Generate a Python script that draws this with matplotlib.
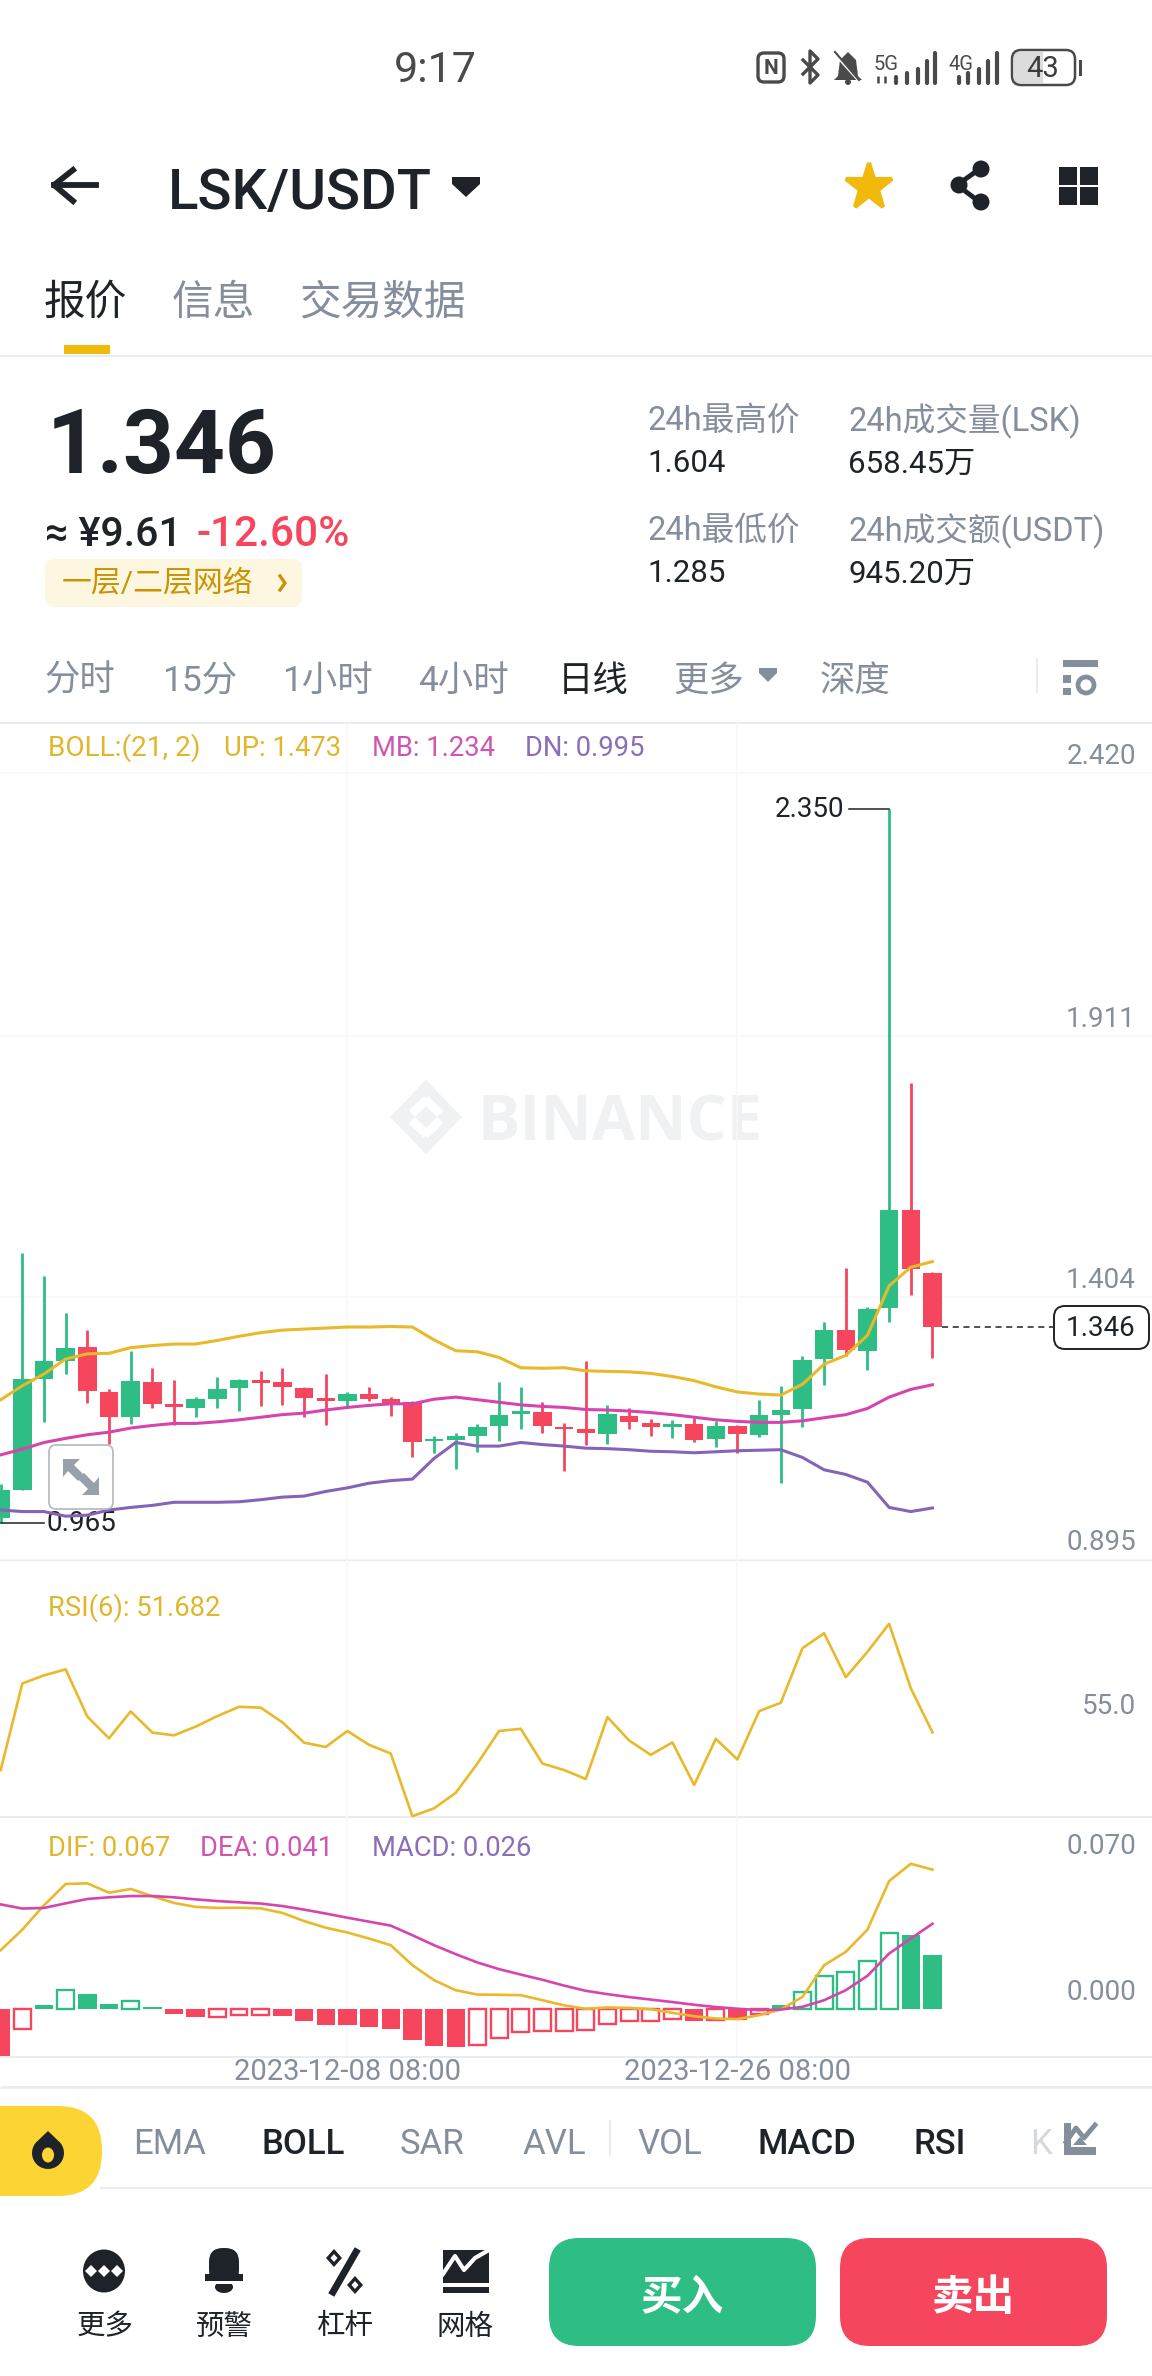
import numpy as np
import matplotlib
matplotlib.use("Agg")
import matplotlib.pyplot as plt
from matplotlib.patches import FancyBboxPatch, Polygon, Circle, Ellipse, Rectangle
from matplotlib.transforms import ScaledTranslation

plt.rcParams['font.family'] = ['Roboto', 'Noto Sans CJK SC', 'DejaVu Sans']

# --- Data ---
opens = [0.975, 1.029, 1.245, 1.280, 1.307, 1.219, 1.172, 1.240, 1.197, 1.189, 1.207,
         1.227, 1.243, 1.240, 1.227, 1.208, 1.203, 1.217, 1.207, 1.200, 1.124, 1.126,
         1.135, 1.154, 1.178, 1.181, 1.153, 1.148, 1.139, 1.174, 1.160, 1.153, 1.158,
         1.128, 1.154, 1.137, 1.176, 1.186, 1.284, 1.340, 1.300, 1.383, 1.573, 1.451]
closes = [1.029, 1.245, 1.280, 1.305, 1.221, 1.172, 1.241, 1.197, 1.191, 1.207, 1.226,
          1.243, 1.238, 1.230, 1.209, 1.203, 1.216, 1.207, 1.197, 1.122, 1.129, 1.134,
          1.152, 1.176, 1.183, 1.154, 1.148, 1.140, 1.177, 1.162, 1.152, 1.158, 1.126,
          1.154, 1.139, 1.176, 1.185, 1.282, 1.340, 1.302, 1.381, 1.573, 1.458, 1.346]
highs = [1.041, 1.489, 1.445, 1.373, 1.340, 1.225, 1.300, 1.266, 1.243, 1.211, 1.250,
         1.245, 1.260, 1.266, 1.229, 1.254, 1.219, 1.229, 1.210, 1.203, 1.135, 1.141,
         1.157, 1.240, 1.229, 1.200, 1.159, 1.280, 1.195, 1.188, 1.168, 1.166, 1.169,
         1.164, 1.156, 1.205, 1.232, 1.289, 1.355, 1.460, 1.385, 2.350, 1.820, 1.452]
lows = [0.965, 1.029, 1.161, 1.255, 1.199, 1.120, 1.158, 1.188, 1.155, 1.172, 1.188,
        1.183, 1.192, 1.194, 1.172, 1.156, 1.188, 1.203, 1.174, 1.093, 1.101, 1.071,
        1.104, 1.124, 1.148, 1.140, 1.067, 1.118, 1.120, 1.148, 1.135, 1.130, 1.122,
        1.113, 1.101, 1.133, 1.043, 1.152, 1.234, 1.289, 1.263, 1.355, 1.408, 1.286]

boll_up = [1.205, 1.232, 1.255, 1.284, 1.294, 1.295, 1.306, 1.310, 1.313, 1.313, 1.320,
           1.328, 1.335, 1.340, 1.342, 1.344, 1.346, 1.346, 1.347, 1.346, 1.321, 1.300,
           1.298, 1.287, 1.267, 1.266, 1.267, 1.261, 1.260, 1.259, 1.256, 1.250, 1.242,
           1.230, 1.220, 1.216, 1.214, 1.235, 1.274, 1.291, 1.330, 1.426, 1.462, 1.473]
boll_mb = [1.098, 1.109, 1.122, 1.130, 1.137, 1.142, 1.150, 1.155, 1.159, 1.159, 1.162,
           1.166, 1.171, 1.176, 1.179, 1.185, 1.190, 1.194, 1.197, 1.197, 1.206, 1.210,
           1.205, 1.200, 1.195, 1.192, 1.190, 1.186, 1.185, 1.183, 1.180, 1.176, 1.171,
           1.166, 1.163, 1.161, 1.161, 1.164, 1.170, 1.176, 1.188, 1.210, 1.225, 1.234]
boll_dn = [0.991, 0.988, 0.988, 0.979, 0.981, 0.991, 0.996, 1.000, 1.006, 1.006, 1.006,
           1.007, 1.011, 1.016, 1.018, 1.027, 1.034, 1.043, 1.048, 1.051, 1.091, 1.122,
           1.115, 1.115, 1.122, 1.118, 1.115, 1.111, 1.110, 1.108, 1.105, 1.104, 1.102,
           1.104, 1.106, 1.107, 1.108, 1.093, 1.069, 1.060, 1.045, 0.996, 0.988, 0.995]

rsi6 = [37.8, 69.7, 72.7, 74.9, 57.5, 49.5, 59.4, 51.6, 50.6, 53.8, 57.7, 61.1, 60.8,
        55.4, 47.9, 46.3, 52.2, 47.1, 43.9, 20.8, 23.7, 29.4, 40.2, 52.2, 53.0, 40.2,
        37.8, 34.5, 57.3, 48.7, 43.4, 48.0, 32.3, 49.3, 41.7, 59.5, 62.6, 82.7, 88.2,
        72.0, 81.4, 91.7, 67.9, 51.682]

dif = [0.0283, 0.0382, 0.0499, 0.0601, 0.0604, 0.0559, 0.0577, 0.0542, 0.0510, 0.0491,
       0.0486, 0.0487, 0.0484, 0.0462, 0.0423, 0.0391, 0.0368, 0.0339, 0.0307, 0.0211,
       0.0139, 0.0091, 0.0070, 0.0069, 0.0067, 0.0043, 0.0018, 0.0002, 0.0008, 0.0006,
       0.0000, -0.0018, -0.0034, -0.0045, -0.0048, -0.0029, -0.0002, 0.0059, 0.0211,
       0.0275, 0.0382, 0.0615, 0.0698, 0.0670]
dea = [0.0503, 0.0483, 0.0486, 0.0508, 0.0529, 0.0537, 0.0543, 0.0543, 0.0537, 0.0527,
       0.0519, 0.0513, 0.0507, 0.0495, 0.0478, 0.0459, 0.0439, 0.0420, 0.0401, 0.0355,
       0.0307, 0.0264, 0.0224, 0.0192, 0.0166, 0.0141, 0.0113, 0.0088, 0.0072, 0.0058,
       0.0046, 0.0034, 0.0021, 0.0010, 0.0002, -0.0005, -0.0002, 0.0011, 0.0043, 0.0091,
       0.0160, 0.0267, 0.0339, 0.0410]
macd = [-0.0225, -0.0096, 0.0019, 0.0093, 0.0074, 0.0024, 0.0037, 0.0011, -0.0024, -0.0037,
        -0.0040, -0.0027, -0.0026, -0.0032, -0.0058, -0.0075, -0.0077, -0.0088, -0.0096,
        -0.0150, -0.0177, -0.0181, -0.0171, -0.0139, -0.0112, -0.0105, -0.0104, -0.0102,
        -0.0072, -0.0058, -0.0056, -0.0048, -0.0059, -0.0053, -0.0050, -0.0024, 0.0018,
        0.0083, 0.0161, 0.0179, 0.0229, 0.0368, 0.0356, 0.0260]
macd_hollow = [0, 1, 0, 1, 0, 0, 1, 0, 0, 0, 1, 1, 1, 0, 0, 0, 0, 0, 0, 0, 0, 0, 1, 1, 1, 1,
               1, 1, 1, 1, 1, 1, 0, 1, 0, 1, 0, 1, 1, 1, 1, 1, 0, 0]

price_ticks = [0.895, 1.404, 1.911, 2.420]
price_labels = ['0.895', '1.404', '1.911', '2.420']
rsi_ticks = [55.0]
rsi_labels = ['55.0']
macd_ticks = [0.0, 0.07]
macd_labels = ['0.000', '0.070']
date_pos = [16, 34]
date_labels = ['2023-12-08 08:00', '2023-12-26 08:00']
last_price = 1.346

periods = ['分时', '15分', '1小时', '4小时', '日线', '更多', '深度']
period_x = [44, 162, 282, 418, 558, 673, 820]
indicators = ['EMA', 'BOLL', 'SAR', 'AVL', 'VOL', 'MACD', 'RSI']
indicator_x = [133, 261, 400, 522, 638, 758, 914]
indicator_on = [False, True, False, False, False, True, True]

# --- Colours ---
DARK = '#1e2329'
GREY = '#848e9c'
GREEN = '#2ebd85'
RED = '#f6465d'
YELLOW = '#e8b92a'
MAGENTA = '#d645ad'
PURPLE = '#8763b8'
LINE = '#eaecef'
FAINT = '#f8f8f9'

W, H = 1152, 2376
fig = plt.figure(figsize=(W / 100, H / 100), dpi=100, facecolor='white')

# x scale shared by the three panels: one candle every 21.67 px
xlim = (-0.67 / 21.67, (W - 0.67) / 21.67)
idx = np.arange(len(opens))
lift = ScaledTranslation(0, 3 / 100, fig.dpi_scale_trans)


def px_axes(top, bottom, zorder=1):
    a = fig.add_axes([0, 1 - bottom / H, 1, (bottom - top) / H], zorder=zorder)
    a.patch.set_visible(False)
    for s in a.spines.values():
        s.set_visible(False)
    return a


def setup_panel(a, ticks, labels, grid_y):
    a.set_xlim(*xlim)
    a.set_xticks(date_pos)
    a.set_xticklabels([])
    a.grid(True, axis='x', color=FAINT, lw=1.2)
    a.set_axisbelow(True)
    a.yaxis.tick_right()
    a.set_yticks(ticks)
    a.set_yticklabels(labels, ha='right', va='bottom', color=GREY, fontsize=20)
    a.tick_params(axis='y', length=0, pad=-11.5)
    a.tick_params(axis='x', length=0)
    for lbl in a.get_yticklabels():
        lbl.set_transform(lbl.get_transform() + lift)
    if grid_y:
        a.grid(True, axis='y', color=FAINT, lw=1.2)


# --- Background layer (page furniture in pixel coordinates) ---
bg = fig.add_axes([0, 0, 1, 1], zorder=0)
bg.set_xlim(0, W)
bg.set_ylim(H, 0)
bg.axis('off')


def txt(x, y, s, size, color=DARK, ha='left', weight='normal', target=None, **kw):
    (target or bg).text(x, y, s, fontsize=size, color=color, ha=ha, va='center',
                        fontweight=weight, **kw)


def rbox(x0, y0, x1, y1, r, fc, ec='none', lw=0, target=None, **kw):
    p = FancyBboxPatch((x0, y0), x1 - x0, y1 - y0, boxstyle='round,pad=0,rounding_size=%g' % r,
                       fc=fc, ec=ec, lw=lw, **kw)
    (target or bg).add_patch(p)
    return p


def rect(x0, y0, x1, y1, color, target=None):
    (target or bg).add_patch(Rectangle((x0, y0), x1 - x0, y1 - y0, fc=color, ec='none'))


def poly(points, color, target=None):
    (target or bg).add_patch(Polygon(points, closed=True, fc=color, ec='none'))


# status bar
ST = '#4a4a4a'
txt(435, 71, '9:17', 31, ST, ha='center')
rbox(758, 53, 784, 82, 6, 'white', ST, 2.4)
txt(771, 68, 'N', 15, ST, ha='center', weight='bold')
bg.plot([803, 818, 810, 810, 818, 803], [60, 75, 83, 51, 59, 74], color=ST, lw=2.4)
poly([(848, 52), (856, 60), (858, 76), (862, 80), (834, 80), (838, 76), (840, 60)], ST)
bg.add_patch(Circle((848, 82), 3, fc=ST))
bg.plot([835, 860], [54, 82], color='white', lw=2)
bg.plot([835, 859], [52, 80], color=ST, lw=1.5)
txt(886, 65, '5G', 14.5, ST, ha='center')
txt(961, 65, '4G', 14.5, ST, ha='center')
bg.vlines([878, 885], 76, 83, color=ST, lw=1.8)
for bx, h in zip([896, 907, 918, 927, 935], [6, 10, 14, 22, 30]):
    bg.plot([bx, bx], [83 - h, 83], color=ST, lw=3, solid_capstyle='round')
for bx, h in zip([959, 968, 979, 988, 997], [6, 10, 14, 22, 30]):
    bg.plot([bx, bx], [83 - h, 83], color=ST, lw=3, solid_capstyle='round')
rect(1014, 52, 1043, 83, '#dcdcdc')
rbox(1012, 50, 1075, 85, 9, 'none', ST, 1.8)
rect(1079, 60, 1082, 76, ST)
txt(1043, 69, '43', 21, '#3c3c3c', ha='center')

# header row
bg.plot([54, 96], [185, 185], color=DARK, lw=4.2)
bg.plot([73, 54, 73], [170, 185, 201], color=DARK, lw=4.2)
txt(168, 194, 'LSK/USDT', 40.5, DARK, weight='medium')
poly([(452, 177), (480, 177), (480, 184), (466, 197), (452, 184)], DARK)
bg.plot([868.5], [187], marker='*', ms=35, color='#f0b90b', mec='#f0b90b', mew=3, mfc='#f0b90b')
bg.plot([981, 957, 981], [168, 185, 203], color=DARK, lw=3.5)
for cx, cy in [(981, 169), (959, 185), (981, 202)]:
    bg.add_patch(Circle((cx, cy), 8.5, fc=DARK))
for x0 in (1059, 1080):
    for y0 in (167, 187):
        rect(x0, y0, x0 + 18, y0 + 18, DARK)

# tabs
txt(44, 303, '报价', 30, DARK, weight='medium')
txt(172, 303, '信息', 30, GREY)
txt(299, 303, '交易数据', 30, GREY)
rect(64, 345, 110, 354, '#f0b90b')
bg.hlines(355.5, 0, W, color=LINE, lw=1.5)

# price block
txt(47, 449, '1.346', 64, DARK, weight='bold')
txt(45, 535, '≈ ¥9.61', 29.5, DARK, weight='medium')
txt(197, 535, '-12.60%', 30.5, RED, weight='medium')
rbox(45, 559, 302, 607, 10, '#fdf6e0')
txt(62, 583, '一层/二层网络', 21.5, '#c99400')
bg.plot([280, 285, 280], [576, 583, 590], color='#c99400', lw=2.4)

txt(647.5, 421, '24h最高价', 23.5, GREY)
txt(647.5, 464, '1.604', 22.5, DARK)
txt(848.5, 421, '24h成交量(LSK)', 23.5, GREY)
txt(848.5, 464, '658.45万', 22.5, DARK)
txt(647.5, 531, '24h最低价', 23.5, GREY)
txt(647.5, 574, '1.285', 22.5, DARK)
txt(848.5, 531, '24h成交额(USDT)', 23.5, GREY)
txt(848.5, 574, '945.20万', 22.5, DARK)

# period row
for name, px in zip(periods, period_x):
    txt(px, 681, name, 25.5, DARK if name == '日线' else GREY, weight='medium' if name == '日线' else 'normal')
poly([(759, 668), (777, 668), (777, 673), (768, 682), (759, 673)], GREY)
bg.vlines(1037, 658, 693, color=LINE, lw=1.5)
rect(1063, 660, 1098, 667, GREY)
rect(1063, 675, 1071, 683, GREY)
rect(1063, 688, 1071, 695, GREY)
bg.add_patch(Circle((1086, 685), 8, fc='none', ec=GREY, lw=3.4))
bg.hlines(722.5, 0, W, color=LINE, lw=1.5)

# watermark
for (cx, cy, r) in [(426, 1089, 9), (406, 1117, 9), (446, 1117, 9), (426, 1117, 11), (426, 1145, 9)]:
    poly([(cx, cy - r), (cx + r, cy), (cx, cy + r), (cx - r, cy)], '#f0f1f2')
poly([(426, 1080), (462, 1117), (450, 1117), (426, 1094), (402, 1117), (390, 1117)], '#f0f1f2')
poly([(426, 1154), (462, 1117), (450, 1117), (426, 1140), (402, 1117), (390, 1117)], '#f0f1f2')
txt(477, 1124, 'BINANCE', 45.5, '#f0f1f2', weight='bold', family=['Open Sans', 'DejaVu Sans'])

# panel separators
bg.hlines([1559.5, 1816.5, 2056.5], 0, W, color=LINE, lw=1.5)
bg.hlines(2087, 0, W, color=LINE, lw=2)
bg.hlines(2188, 100, W, color=LINE, lw=1.5)

# indicator row
rbox(-60, 2106, 102, 2196, 44, '#fcd535')
theta = np.radians(np.arange(-40, 221, 10))
drop = [(48, 2131)] + [(48 + 16 * np.cos(t), 2153 + 16 * np.sin(t)) for t in theta]
poly(drop, DARK)
bg.add_patch(Ellipse((48, 2155), 12, 15, fc='#fcd535'))
for name, px, on in zip(indicators, indicator_x, indicator_on):
    txt(px, 2144, name, 25, DARK if on else GREY, weight='medium' if on else 'normal')
bg.vlines(610, 2120, 2156, color=LINE, lw=1.5)
txt(1030, 2144, 'K', 25, '#d5d8dc')
rect(1064, 2147, 1096, 2155, GREY)
rect(1064, 2123, 1071, 2155, GREY)
bg.plot([1066, 1076, 1084, 1095], [2142, 2128, 2138, 2125], color=GREY, lw=3.5)
poly([(1073, 2145), (1080, 2137), (1087, 2145)], GREY)

# bottom actions
bg.add_patch(Ellipse((104, 2271), 42, 43, fc=DARK))
for dx in (-13, 0, 13):
    poly([(104 + dx, 2265), (110 + dx, 2271), (104 + dx, 2277), (98 + dx, 2271)], 'white')
rbox(209, 2248, 239, 2284, 14, DARK)
rect(205, 2274, 243, 2281, DARK)
bg.add_patch(Ellipse((224, 2287), 18, 12, fc=DARK))
rect(205, 2281, 244, 2284, 'white')
bg.plot([333, 356], [2292, 2252], color=DARK, lw=5)
for cx, cy in [(334, 2258), (355, 2285)]:
    poly([(cx, cy - 9), (cx + 8, cy), (cx, cy + 9), (cx - 8, cy)], DARK)
    poly([(cx, cy - 4), (cx + 3.5, cy), (cx, cy + 4), (cx - 3.5, cy)], 'white')
rect(443, 2250, 489, 2283, DARK)
bg.plot([443, 455, 464, 475, 489], [2274, 2256, 2270, 2258, 2250], color='white', lw=3)
rect(443, 2287, 489, 2293, DARK)
for name, px in zip(['更多', '预警', '杠杆', '网格'], [105, 224, 345, 465]):
    txt(px, 2327, name, 20.5, DARK, ha='center')
rbox(549, 2238, 816, 2346, 30, GREEN)
rbox(840, 2238, 1107, 2346, 30, RED)
txt(682.5, 2298, '买入', 30, 'white', ha='center', weight='bold')
txt(973, 2298, '卖出', 30, 'white', ha='center', weight='bold')

# --- Candle panel ---
ax = px_axes(723, 1559.5)
ax.set_ylim(0.895, 2.5178)
setup_panel(ax, price_ticks, price_labels, True)
cols = [GREEN if c >= o else RED for o, c in zip(opens, closes)]
ax.vlines(idx, lows, highs, colors=cols, lw=2, zorder=2)
bot = np.minimum(opens, closes)
top_ = np.maximum(opens, closes)
ax.bar(idx, top_ - bot, bottom=bot, width=0.85, color=cols, lw=0, zorder=3)
ax.plot(idx, boll_mb, color=MAGENTA, lw=2.2, zorder=4)
ax.plot(idx, boll_up, color=YELLOW, lw=2.2, zorder=4)
ax.plot(idx, boll_dn, color=PURPLE, lw=2.2, zorder=4)

# high / low / last price markers
ihi = int(np.argmax(highs))
ilo = int(np.argmin(lows))
ax.plot([ihi - 1.85, ihi], [highs[ihi]] * 2, color=DARK, lw=1.1, zorder=5)
ax.text(ihi - 2.05, highs[ihi], '2.350', fontsize=20, color=DARK, ha='right', va='center')
ax.plot([ilo, ilo + 2.0], [lows[ilo]] * 2, color=DARK, lw=1.1, zorder=5)
ax.text(ilo + 2.1, lows[ilo], '0.965', fontsize=20, color=DARK, ha='left', va='center')
ax.plot([43.45, 48.55], [last_price] * 2, color=DARK, lw=1.1, dashes=(4, 3), zorder=5)

txt(48, 748, 'BOLL:(21, 2)', 20.2, '#e2b62c')
txt(224, 748, 'UP: 1.473', 19.7, '#e2b62c')
txt(372, 748, 'MB: 1.234', 19.7, '#cf55b0')
txt(525, 748, 'DN: 0.995', 19.7, '#8a6fb8')

# --- RSI panel ---
ax2 = px_axes(1560, 1817)
ax2.set_ylim(20.5, 115.2)
setup_panel(ax2, rsi_ticks, rsi_labels, False)
ax2.plot(idx, rsi6, color=YELLOW, lw=1.9)
txt(48, 1608, 'RSI(6): 51.682', 19.7, '#e2b62c')

# --- MACD panel ---
ax3 = px_axes(1816.5, 2056)
ax3.set_ylim(-0.0225, 0.0925)
setup_panel(ax3, macd_ticks, macd_labels, False)
bar_cols = [GREEN if v >= 0 else RED for v in macd]
for i, v in enumerate(macd):
    if macd_hollow[i]:
        ax3.bar(i, v, width=0.78, fc='white', ec=bar_cols[i], lw=1.7, zorder=2)
    else:
        ax3.bar(i, v, width=0.85, color=bar_cols[i], lw=0, zorder=2)
ax3.plot(idx, dif, color=YELLOW, lw=1.9, zorder=3)
ax3.plot(idx, dea, color=MAGENTA, lw=1.9, zorder=3)
ax3.set_xticklabels(date_labels, color=GREY, fontsize=21)
ax3.tick_params(axis='x', pad=1.5)
txt(48, 1849, 'DIF: 0.067', 19.7, '#e2b62c')
txt(200, 1849, 'DEA: 0.041', 19.7, '#cf55b0')
txt(372, 1849, 'MACD: 0.026', 19.7, '#8a6fb8')

# --- Overlay layer: expand button and last price box ---
fg = fig.add_axes([0, 0, 1, 1], zorder=5)
fg.set_xlim(0, W)
fg.set_ylim(H, 0)
fg.axis('off')
rbox(49, 1445, 113, 1509, 7, (1, 1, 1, 0.65), '#b7bdc6', 1.3, target=fg)
bg_arrow = '#98a0ab'
poly([(63, 1459), (80, 1459), (74, 1465), (84, 1475), (78, 1481), (68, 1471), (63, 1477)], bg_arrow, fg)
poly([(99, 1495), (82, 1495), (88, 1489), (78, 1479), (84, 1473), (94, 1483), (99, 1477)], bg_arrow, fg)
rbox(1054, 1306, 1149, 1349, 11, 'white', DARK, 1.4, target=fg)
txt(1101, 1328, '1.346', 20, DARK, ha='center', target=fg)

fig.savefig('out.png', dpi=100, facecolor='white')
